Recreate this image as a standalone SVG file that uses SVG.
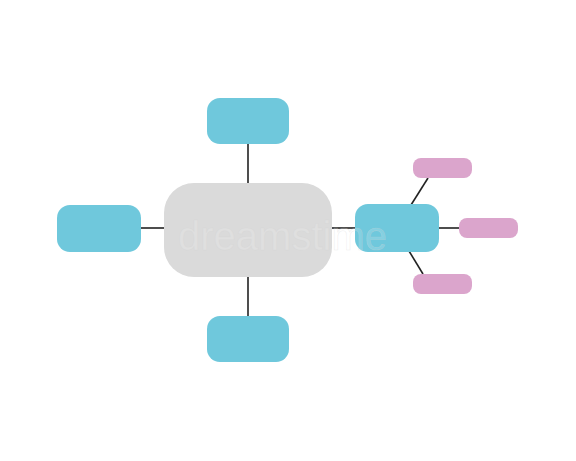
<svg xmlns="http://www.w3.org/2000/svg" width="576" height="461" viewBox="0 0 576 461">
<style>
.blue{fill:#6fc8dc}
.pink{fill:#dba5cc}
.center{fill:#dadada}
.edge{stroke:#222;stroke-width:1.6;fill:none}
.wm{font-family:"Liberation Sans",Arial,sans-serif;font-size:40px;fill:#ffffff;fill-opacity:0.18;stroke:#cfcfcf;stroke-opacity:0.35;stroke-width:0.6}
</style>
<rect width="576" height="461" fill="#ffffff"/>
<g id="connectors">
<line class="edge" x1="248" y1="144" x2="248" y2="184"/>
<line class="edge" x1="248" y1="276" x2="248" y2="316"/>
<line class="edge" x1="141" y1="228" x2="165" y2="228"/>
<line class="edge" x1="331" y1="228" x2="356" y2="228"/>
<line class="edge" x1="438" y1="228" x2="460" y2="228"/>
<line class="edge" x1="411" y1="205" x2="428" y2="178"/>
<line class="edge" x1="409" y1="251" x2="423" y2="274"/>
</g>
<g id="center"><rect class="center" x="164" y="183" width="168" height="94" rx="30"/></g>
<g id="top"><rect class="blue" x="207" y="98" width="82" height="46" rx="13"/></g>
<g id="bottom"><rect class="blue" x="207" y="316" width="82" height="46" rx="13"/></g>
<g id="left"><rect class="blue" x="57" y="205" width="84" height="47" rx="13"/></g>
<g id="right"><rect class="blue" x="355" y="204" width="84" height="48" rx="13"/></g>
<g id="pink-top"><rect class="pink" x="413" y="158" width="59" height="20" rx="8"/></g>
<g id="pink-mid"><rect class="pink" x="459" y="218" width="59" height="20" rx="8"/></g>
<g id="pink-bottom"><rect class="pink" x="413" y="274" width="59" height="20" rx="8"/></g>
<text class="wm" x="178" y="250">dreamstime</text>
</svg>
